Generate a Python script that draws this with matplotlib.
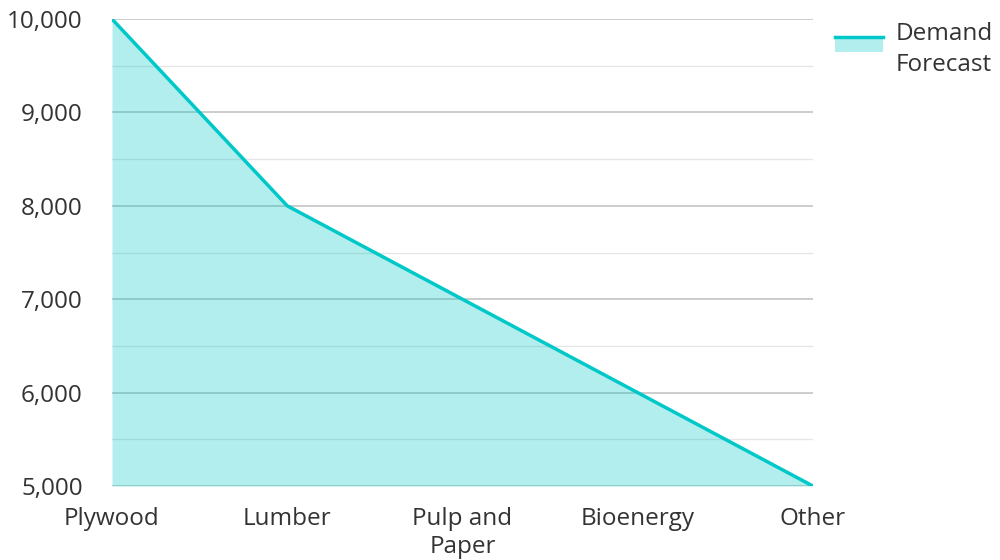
import matplotlib.pyplot as plt
from matplotlib.patches import Rectangle
from matplotlib.lines import Line2D
from matplotlib.legend_handler import HandlerBase
from matplotlib.ticker import FuncFormatter, MultipleLocator

plt.rcParams['font.family'] = ['Open Sans', 'DejaVu Sans']

categories = ["Plywood", "Lumber", "Pulp and\nPaper", "Bioenergy", "Other"]
demand = [10000, 8000, 7000, 6000, 5000]

line_color = "#00c8c8"


class AreaHandler(HandlerBase):
    # filled box with the line drawn along its top edge
    def create_artists(self, legend, orig_handle, xdescent, ydescent, width, height, fontsize, trans):
        top = height * 1.25
        rect = Rectangle((-xdescent, top - height * 0.9), width, height * 0.9,
                         facecolor=line_color, alpha=0.3, edgecolor='none', transform=trans)
        line = Line2D([-xdescent, -xdescent + width], [top, top], color=line_color,
                      linewidth=2.5, transform=trans)
        return [rect, line]


fig = plt.figure(figsize=(10, 5.6), dpi=100)
ax = fig.add_axes([0.112, 0.132, 0.701, 0.834])

x = list(range(len(categories)))
ax.fill_between(x, demand, 5000, color=line_color, alpha=0.3, linewidth=0, zorder=2)
ln, = ax.plot(x, demand, color=line_color, linewidth=2.5, zorder=3)

ax.set_xlim(0, len(categories) - 1)
ax.set_ylim(5000, 10000)
ax.yaxis.set_major_locator(MultipleLocator(1000))
ax.yaxis.set_minor_locator(MultipleLocator(500))
ax.yaxis.set_major_formatter(FuncFormatter(lambda v, p: f"{int(v):,}"))
ax.set_xticks(x)
ax.set_xticklabels(categories, linespacing=1.2)

ax.set_axisbelow(True)
ax.grid(axis='y', which='major', color='#c4c4c4', linewidth=1.2)
ax.grid(axis='y', which='minor', color='#e6e6e6', linewidth=1)
for s in ax.spines.values():
    s.set_visible(False)
ax.tick_params(axis='both', which='both', length=0, labelsize=17.5, colors='#333333')
ax.tick_params(axis='y', pad=21)
ax.tick_params(axis='x', pad=15)

leg = ax.legend([ln], ["Demand\nForecast"], loc='upper left', bbox_to_anchor=(1.0, 1.04),
                frameon=False, fontsize=17.5, handlelength=2.0, handletextpad=0.5,
                labelcolor='#333333', handler_map={Line2D: AreaHandler()})
for t in leg.get_texts():
    t.set_linespacing(1.35)

fig.savefig("out.png", dpi=100)
